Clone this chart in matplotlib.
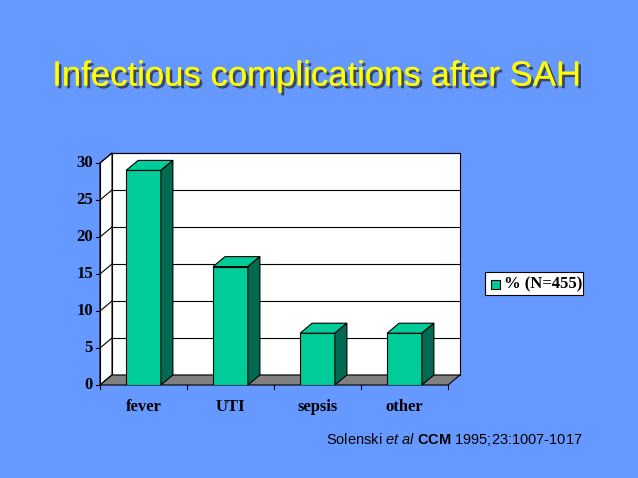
import matplotlib
matplotlib.use("Agg")
import matplotlib.pyplot as plt
from matplotlib.patches import Polygon, Rectangle
import matplotlib.patheffects as pe

plt.rcParams["mathtext.fontset"] = "custom"
plt.rcParams["mathtext.rm"] = "Liberation Sans"
plt.rcParams["mathtext.it"] = "Liberation Sans:italic"
plt.rcParams["mathtext.bf"] = "Liberation Sans:bold"

categories = ["fever", "UTI", "sepsis", "other"]
values = [29.0, 16.0, 7.0, 7.0]
yticks = [0, 5, 10, 15, 20, 25, 30]
series_name = "% (N=455)"

W, H = 638, 478
fig = plt.figure(figsize=(W/100, H/100), dpi=100)
fig.patch.set_facecolor("#6699FF")

L, R, B, T = 100, 448, 385, 163
ax = fig.add_axes([L/W, 1-B/H, (R-L)/W, (B-T)/H])
ax.set_xlim(0, len(categories))
ax.set_ylim(0, 30)
ax.axis("off")

px_x = len(categories)/(R-L)
px_y = 30/(B-T)
dx, dy = 12*px_x, 10*px_y
n = len(categories)

ax.add_patch(Polygon([(dx, dy), (n+dx, dy), (n+dx, 30+dy), (dx, 30+dy)], closed=True,
                     facecolor="white", edgecolor="black", lw=0.8, clip_on=False, zorder=0))
ax.add_patch(Polygon([(0, 0), (dx, dy), (dx, 30+dy), (0, 30)], closed=True,
                     facecolor="white", edgecolor="black", lw=0.8, clip_on=False, zorder=0))
for t in yticks:
    ax.plot([dx, n+dx], [t+dy, t+dy], color="black", lw=0.8, zorder=1, clip_on=False)
    ax.plot([0, dx], [t, t+dy], color="black", lw=0.8, zorder=1, clip_on=False)
    ax.plot([-0.05, 0], [t, t], color="black", lw=0.8, clip_on=False)
    ax.text(-0.08, t, str(t), ha="right", va="center", family="Liberation Serif",
            fontweight="bold", fontsize=12, color="black")
ax.add_patch(Polygon([(0, 0), (n, 0), (n+dx, dy), (dx, dy)], closed=True,
                     facecolor="#808080", edgecolor="black", lw=0.8, clip_on=False, zorder=2))
ax.plot([0, 0], [0, 30], color="black", lw=0.8, clip_on=False, zorder=2)
for i in range(n+1):
    ax.plot([i, i], [0, -0.6], color="black", lw=0.8, clip_on=False)

bw = 0.4
bars = ax.bar(range(n), values, width=bw, align="edge", color="#00CC99",
              edgecolor="black", lw=0.8, zorder=5)
for b in bars:
    b.set_x(b.get_x() + 0.5 - bw/2)
for i, v in enumerate(values):
    x0 = i + 0.5 - bw/2
    x1 = x0 + bw
    ax.add_patch(Polygon([(x0, v), (x1, v), (x1+dx, v+dy), (x0+dx, v+dy)], closed=True,
                         facecolor="#00CC99", edgecolor="black", lw=0.8, zorder=5, clip_on=False))
    ax.add_patch(Polygon([(x1, 0), (x1+dx, dy), (x1+dx, v+dy), (x1, v)], closed=True,
                         facecolor="#006B50", edgecolor="black", lw=0.8, zorder=5, clip_on=False))
    ax.text(i+0.5, -1.9, categories[i], ha="center", va="top", family="Liberation Serif",
            fontweight="bold", fontsize=12, color="black")

fig.patches.append(Rectangle((485/W, 1-295/H), 98/W, 23/H, transform=fig.transFigure,
                             facecolor="white", edgecolor="black", lw=0.8))
fig.patches.append(Rectangle((491/W, 1-289/H), 9/W, 9/H, transform=fig.transFigure,
                             facecolor="#00CC99", edgecolor="black", lw=0.8))
fig.text(504/W, 1-284/H, series_name, ha="left", va="center", family="Liberation Serif",
         fontweight="bold", fontsize=12)

fig.text(317/W, 1-76/H, "Infectious complications after SAH", ha="center", va="center",
         family="Liberation Sans", fontsize=25, color="#FFFF00",
         path_effects=[pe.withSimplePatchShadow(offset=(2, -2), shadow_rgbFace="#333333", alpha=0.8), pe.Normal()])

fig.text(326/W, 1-440/H, "Solenski $\\mathit{et\\ al}$ $\\mathbf{CCM}$ 1995;23:1007-1017", ha="left", va="center",
         family="Liberation Sans", fontsize=10.5, color="black")

fig.savefig("out.png", dpi=100, facecolor=fig.get_facecolor())
